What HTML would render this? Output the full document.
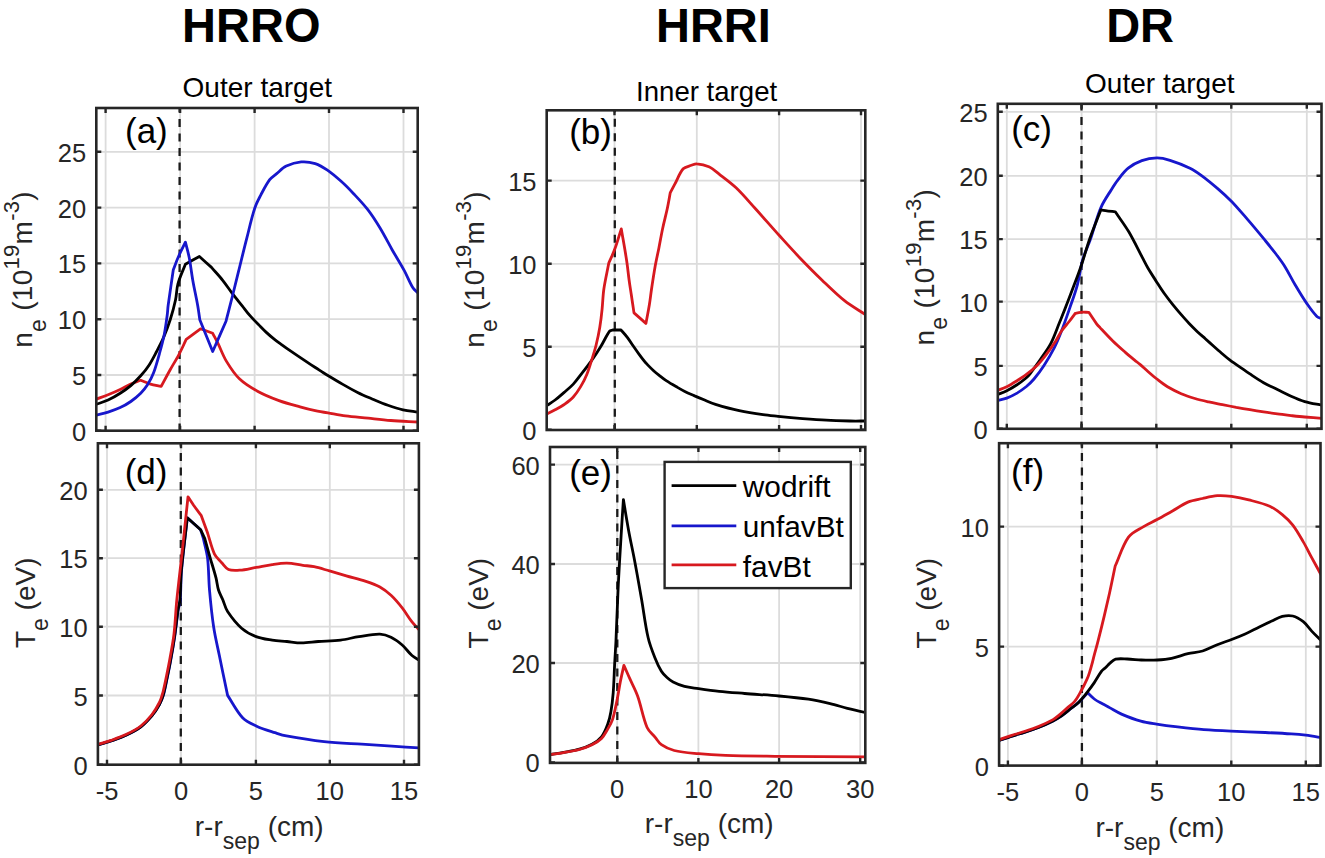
<!DOCTYPE html>
<html><head><meta charset="utf-8"><style>
html,body{margin:0;padding:0;background:#fff;}
svg{display:block;}
text{font-family:"Liberation Sans", sans-serif;fill:#262626;}
.k{fill:#000;}
</style></head><body>
<svg width="1325" height="858" viewBox="0 0 1325 858">
<rect width="1325" height="858" fill="#fff"/>
<clipPath id="clipa"><rect x="96.3" y="108" width="321.4" height="322.7"/></clipPath>
<path d="M105.6 108V430.7M180.1 108V430.7M254.6 108V430.7M329 108V430.7M403.5 108V430.7M96.3 375H417.7M96.3 319.2H417.7M96.3 263.4H417.7M96.3 207.6H417.7M96.3 151.8H417.7" stroke="#dcdcdc" stroke-width="1.8" fill="none"/>
<line x1="179.6" y1="430.7" x2="179.6" y2="108" stroke="#1a1a1a" stroke-width="2.3" stroke-dasharray="8 6.5" stroke-dashoffset="0.9"/>
<g clip-path="url(#clipa)" fill="none" stroke-width="2.8" stroke-linejoin="round" stroke-linecap="round">
<path d="M96 399.2C100 397.7 104.1 396.3 108.1 394.7C112.2 393 116.2 391.3 120.2 389.4C123.8 387.7 127.2 385.7 130.8 384.1C134 382.7 137.4 381.6 140.7 380.3C144 381.6 147.2 383.1 150.5 384.1C154 385.1 157.6 385.6 161.2 386.4C164.2 380.8 167.1 375.2 170.2 369.7C173.2 364.4 176.5 359.2 179.3 353.8C181.8 349.1 183.9 344.2 186.2 339.4C191 335.9 195.7 332.3 200.5 328.8C204.6 330.3 208.6 331.8 212.7 333.3C214.5 336.8 216.4 340.3 218.2 343.9C221 349.7 223.2 355.9 226.5 361.4C230.2 367.5 234.3 373.9 239.4 378.8C244.6 383.8 251.1 387.7 257.5 391.2C264.3 395 271.7 397.9 279 400.6C285.8 403.1 293 404.9 300 406.8C305 408.2 310.1 409.5 315.2 410.6C319.4 411.5 323.7 412.2 328 412.9C333.8 413.9 339.6 415.1 345.5 415.9C353 416.9 360.6 417.4 368.2 418.2C375.8 419 383.3 419.9 390.9 420.5C399.9 421.2 409 421.5 418 422" stroke="#d7191f"/>
<path d="M96 404.5C100 403 104.2 401.8 108.1 400C112.3 398 116.3 395.7 120.2 393.2C123.9 390.9 127.5 388.4 130.8 385.6C134.3 382.6 137.6 379.3 140.7 375.8C143.7 372.5 146.6 368.9 149 365.2C151.9 360.8 154.2 356.1 156.6 351.5C159 347 161.4 342.6 163.4 337.9C165.9 332 168.2 325.9 170.2 319.7C172.3 313.2 174.1 306.6 175.5 300C176.7 294.6 176.5 289 178 283.7C179.8 277 182.9 270.7 185.4 264.2C190.1 261.6 194.7 259.1 199.4 256.5C203.4 260.1 207.5 263.8 211.5 267.4C215.2 271.7 219.2 275.8 222.7 280.3C226.2 284.7 229.2 289.4 232.6 293.9C235.8 298 239.1 302 242.4 306.1C244.9 309.3 247.3 312.6 250 315.7C252.6 318.7 255.4 321.5 258.2 324.3C260.9 327 263.5 329.8 266.3 332.4C268.9 334.8 271.7 337.2 274.5 339.4C277.1 341.5 279.9 343.4 282.6 345.4C285.3 347.4 288 349.3 290.8 351.2C293.5 353 296.2 354.8 298.9 356.6C301.6 358.4 304.4 360.3 307.1 362.1C309.8 363.9 312.6 365.7 315.3 367.5C318 369.2 320.7 371 323.4 372.7C325.6 374.1 327.8 375.4 330 376.7C334.1 379.2 338.2 381.7 342.4 384.1C347.4 387 352.4 389.8 357.6 392.4C362.5 394.9 367.6 397 372.7 399.2C377.7 401.3 382.8 403.5 387.9 405.3C392.9 407 397.9 408.6 403 409.8C407.9 410.9 413 411.4 418 412.2" stroke="#000000"/>
<path d="M96 415.2C100 414.2 104.1 413.3 108.1 412.1C112.2 410.8 116.3 409.4 120.2 407.6C123.9 405.9 127.5 403.8 130.8 401.5C134.3 399 137.7 396.2 140.7 393.2C143.2 390.7 145.6 387.8 147.5 384.8C149.9 381 152 376.9 153.6 372.7C156 366.3 157.8 359.6 159.6 353C161.3 347 163 340.9 164.2 334.8C165.5 328.3 166.3 321.7 167.2 315.2C167.7 311.8 167.7 308.4 168.2 305C169.8 293.3 171.6 281.5 173.3 269.8C175 265.4 176.5 261 178.4 256.7C180.6 251.8 183.1 247 185.4 242.2C186.7 247.3 188.2 252.4 189.2 257.6C190.7 265.3 191.5 273.2 192.9 281C194.3 289 196.2 297 197.6 305C198.5 309.9 199.1 314.8 199.8 319.7C204.1 330.3 208.4 340.9 212.7 351.5C217.1 341.4 221.6 331.3 226 321.2C228.2 312.6 230.4 304.1 232.6 295.5C234.6 287.4 236.6 279.3 238.6 271.2C241.4 259.9 244.1 248.6 247 237.4C249.5 227.5 251.7 217.4 254.9 207.7C256.4 203.1 258.8 198.9 261 194.6C263.7 189.5 266.3 184.3 269.7 179.7C271.5 177.3 274.3 175.6 276.7 173.6C279.8 171 282.7 167.8 286.3 166.1C290.9 163.9 296.2 162.3 301.2 161.9C305.8 161.5 310.8 162.2 315.2 163.6C319.5 165 323.6 167.5 327.4 170.1C332.3 173.5 336.9 177.5 341.4 181.5C345.7 185.3 349.7 189.5 353.6 193.7C358.4 198.8 363.3 203.9 367.6 209.4C372.1 215.2 376.1 221.5 379.9 227.8C384.2 234.9 388 242.4 392.1 249.7C396.1 256.7 400.4 263.5 404.3 270.6C407.4 276.3 409.7 282.6 413.1 288.1C414.4 290.2 416.6 291.6 418.3 293.4" stroke="#1717cc"/>
</g>
<path d="M105.6 430.7v-5M105.6 108v5M180.1 430.7v-5M180.1 108v5M254.6 430.7v-5M254.6 108v5M329 430.7v-5M329 108v5M403.5 430.7v-5M403.5 108v5M96.3 430.7h5M417.7 430.7h-5M96.3 375h5M417.7 375h-5M96.3 319.2h5M417.7 319.2h-5M96.3 263.4h5M417.7 263.4h-5M96.3 207.6h5M417.7 207.6h-5M96.3 151.8h5M417.7 151.8h-5" stroke="#262626" stroke-width="2.4" fill="none"/>
<rect x="96.3" y="108" width="321.4" height="322.7" fill="none" stroke="#262626" stroke-width="2.6"/>
<text x="86.1" y="440.7" font-size="25.5" text-anchor="end">0</text>
<text x="86.1" y="385" font-size="25.5" text-anchor="end">5</text>
<text x="86.1" y="329.2" font-size="25.5" text-anchor="end">10</text>
<text x="86.1" y="273.4" font-size="25.5" text-anchor="end">15</text>
<text x="86.1" y="217.6" font-size="25.5" text-anchor="end">20</text>
<text x="86.1" y="161.8" font-size="25.5" text-anchor="end">25</text>
<text class="k" x="125" y="143" font-size="35">(a)</text>
<clipPath id="clipb"><rect x="546.7" y="110.3" width="318.6" height="319.7"/></clipPath>
<path d="M614.5 110.3V430M696.8 110.3V430M779.1 110.3V430M861 110.3V430M546.7 346.7H865.3M546.7 263.8H865.3M546.7 180.6H865.3" stroke="#dcdcdc" stroke-width="1.8" fill="none"/>
<line x1="614.8" y1="430" x2="614.8" y2="110.3" stroke="#1a1a1a" stroke-width="2.3" stroke-dasharray="8 6.5" stroke-dashoffset="1.3"/>
<g clip-path="url(#clipb)" fill="none" stroke-width="2.8" stroke-linejoin="round" stroke-linecap="round">
<path d="M546 406.1C549 404.1 552.2 402.2 555.1 400C558.3 397.6 561.2 395 564.2 392.4C567.3 389.7 570.5 387.1 573.3 384.1C576.6 380.5 579.4 376.5 582.4 372.7C585.5 368.7 588.6 364.7 591.5 360.6C594.6 356.2 597.7 351.6 600.5 347C603.7 341.8 606.2 335.9 609.6 331.1C610.2 330.2 611.7 330.4 612.7 330C615.5 330 618.2 330 621 330C623.2 332.5 625.5 335 627.5 337.6C629.5 340.2 631.2 343.1 633.1 345.8C634.9 348.4 636.7 351.1 638.6 353.6C641 356.9 643.4 360.2 646.1 363.2C648.4 365.9 651 368.3 653.6 370.7C655.4 372.3 657.3 373.8 659.2 375.3C661.6 377.2 664 379.2 666.6 380.9C669.6 382.9 672.8 384.7 676 386.5C679.1 388.3 682.1 390.1 685.3 391.7C688.3 393.2 691.5 394.5 694.6 395.9C697.7 397.2 700.9 398.5 704 399.8C707.8 401.4 711.6 403.2 715.5 404.4C723.3 406.8 731.2 409 739.2 410.7C747.1 412.4 755 413.6 763 414.7C768 415.4 773.1 415.8 778.1 416.3C786.3 417.1 794.4 417.9 802.6 418.6C810.5 419.2 818.5 419.8 826.4 420.2C834.3 420.6 842.3 420.8 850.2 421C855.5 421.1 860.7 421 866 421" stroke="#000000"/>
<path d="M546 414.4C549 412.9 552.1 411.4 555.1 409.8C558.2 408.1 561.3 406.5 564.2 404.5C567.4 402.2 570.7 399.9 573.3 397C576.2 393.8 578.6 390.1 580.8 386.4C583.1 382.5 585.2 378.4 586.9 374.2C588.7 369.8 590.1 365.2 591.5 360.6C593.1 355.6 594.7 350.6 596 345.5C597.5 339.5 598.8 333.4 599.8 327.3C600.8 321.3 601.5 315.2 602.1 309.1C602.8 302.3 602.9 295.4 603.9 288.7C605.2 280.1 607.2 271.6 608.8 263C610.8 258.4 613.1 253.8 614.8 249.1C617.2 242.5 619.1 235.6 621.3 228.9C623.1 239.6 625.1 250.3 626.7 261C627.7 267.3 628.2 273.7 629.1 280C629.7 284.7 630.5 289.3 631.2 294C632.1 300.3 633.1 306.6 634 312.9C638 316.4 641.9 319.9 645.9 323.4C647.1 317.1 648.4 310.8 649.4 304.5C650.2 299.7 650.7 294.8 651.4 290C652.6 282 653.8 274 655.2 266.1C656.3 260 657.7 254 658.9 247.9C660.2 241.3 661.3 234.7 662.7 228.2C664.1 221.6 665.9 215.1 667.3 208.5C668.4 203.2 669.3 197.9 670.3 192.6C671.8 189.8 673.3 187 674.8 184.2C677.6 179.1 679.5 173 683.2 168.8C685.1 166.7 688.7 166.3 691.5 165.3C693.2 164.7 695 163.6 696.8 163.8C700.8 164.1 705.2 165.1 708.9 166.8C712.9 168.7 716.4 172 720 174.8C725.5 179 731.1 183.1 736.1 187.8C742.7 194.1 748.6 201.2 754.8 208C763 217 770.9 226.3 779.1 235.3C785.9 242.8 792.7 250.4 799.7 257.7C807 265.3 814.5 272.9 822.1 280.2C829.4 287.2 836.6 294.4 844.5 300.7C851.2 306 858.8 310.2 866 315" stroke="#d7191f"/>
</g>
<path d="M614.5 430v-5M614.5 110.3v5M696.8 430v-5M696.8 110.3v5M779.1 430v-5M779.1 110.3v5M861 430v-5M861 110.3v5M546.7 429.8h5M865.3 429.8h-5M546.7 346.7h5M865.3 346.7h-5M546.7 263.8h5M865.3 263.8h-5M546.7 180.6h5M865.3 180.6h-5" stroke="#262626" stroke-width="2.4" fill="none"/>
<rect x="546.7" y="110.3" width="318.6" height="319.7" fill="none" stroke="#262626" stroke-width="2.6"/>
<text x="536.5" y="439.8" font-size="25.5" text-anchor="end">0</text>
<text x="536.5" y="356.7" font-size="25.5" text-anchor="end">5</text>
<text x="536.5" y="273.8" font-size="25.5" text-anchor="end">10</text>
<text x="536.5" y="190.6" font-size="25.5" text-anchor="end">15</text>
<text class="k" x="569.2" y="144.1" font-size="35">(b)</text>
<clipPath id="clipc"><rect x="997.8" y="103.8" width="323.7" height="325"/></clipPath>
<path d="M1006.8 103.8V428.8M1081.6 103.8V428.8M1156.3 103.8V428.8M1231.3 103.8V428.8M1306.8 103.8V428.8M997.8 365.9H1321.5M997.8 301.6H1321.5M997.8 239.1H1321.5M997.8 175.8H1321.5M997.8 111.8H1321.5" stroke="#dcdcdc" stroke-width="1.8" fill="none"/>
<line x1="1081.5" y1="428.8" x2="1081.5" y2="103.8" stroke="#1a1a1a" stroke-width="2.3" stroke-dasharray="8 6.5" stroke-dashoffset="0.7"/>
<g clip-path="url(#clipc)" fill="none" stroke-width="2.8" stroke-linejoin="round" stroke-linecap="round">
<path d="M997 400.5C1000.3 399.7 1003.7 399.2 1006.8 398.1C1010.2 396.9 1013.5 395.2 1016.6 393.4C1020 391.4 1023.3 389 1026.4 386.5C1029.1 384.2 1031.7 381.7 1034 379C1037.6 374.7 1041 370.2 1044 365.5C1047.8 359.6 1051.3 353.5 1054.5 347.3C1057.2 342 1059.4 336.5 1061.5 331C1064.5 323.3 1067.2 315.4 1069.9 307.6C1072.5 300.1 1075.3 292.7 1077.3 285.1C1079.5 276.9 1080.3 268.2 1082.6 260C1084.7 252.8 1088 246.1 1090.5 239C1094.1 228.6 1096.6 217.7 1100.9 207.6C1103.6 201.2 1107.8 195.4 1111.5 189.4C1113.4 186.3 1115.3 183.2 1117.6 180.3C1120.9 176.1 1124.1 171.5 1128.2 168.2C1132.2 165 1137 162.3 1141.8 160.6C1146.6 158.9 1151.9 158 1157 157.9C1161.3 157.9 1165.8 159 1170 160.3C1176.8 162.4 1183.6 165.1 1190 168.2C1194.2 170.2 1198.1 173 1201.9 175.8C1207.3 179.8 1212.6 184.2 1217.7 188.6C1222.5 192.7 1227.2 197 1231.6 201.5C1237.1 207.2 1242.3 213.4 1247.5 219.4C1252.9 225.6 1258.1 231.9 1263.3 238.2C1267.3 243.1 1271.4 248 1275.2 253C1278.6 257.5 1282.1 262.1 1285.1 266.9C1288.7 272.7 1291.6 278.9 1295.1 284.7C1298.9 291.1 1302.7 297.5 1306.9 303.6C1310 308.1 1313.1 312.7 1316.9 316.4C1318.2 317.7 1320.3 317.9 1322 318.6" stroke="#1717cc"/>
<path d="M997 394.8C1000.3 393.4 1003.6 392.3 1006.8 390.7C1010.2 389 1013.5 387.1 1016.6 385C1020 382.8 1023.3 380.3 1026.4 377.7C1027.8 376.6 1028.9 375.2 1030 373.8C1033.6 369 1037.1 364.1 1040.5 359.2C1044.1 353.9 1048.1 348.8 1051 343.1C1054.4 336.6 1056.6 329.6 1059.4 322.8C1061.5 317.6 1063.7 312.4 1065.7 307.1C1068.6 299.8 1071.3 292.5 1074.1 285.1C1076.6 278.5 1079.1 271.9 1081.4 265.2C1084.4 256.2 1086.8 247 1090 238C1093.3 228.5 1097.3 219.2 1100.9 209.8C1102.4 210.1 1104 210.4 1105.5 210.6C1108.8 211.1 1112 211.4 1115.3 211.8C1119.8 218.5 1124.7 224.9 1128.8 231.8C1133.7 240.2 1137.9 249 1142.4 257.6C1144.3 261.2 1146.1 264.9 1148.2 268.5C1150.8 272.9 1153.6 277.1 1156.3 281.4C1159 285.6 1161.6 289.8 1164.5 293.8C1167.1 297.4 1169.8 300.9 1172.6 304.4C1175.3 307.7 1178 311 1180.8 314.2C1183.4 317.2 1186.1 320.3 1188.9 323.2C1191.6 326 1194.3 328.7 1197.1 331.4C1199.8 333.9 1202.6 336.3 1205.3 338.7C1208 341.1 1210.7 343.6 1213.4 346C1216.1 348.4 1218.8 350.8 1221.6 353.2C1224.3 355.5 1226.9 357.8 1229.7 359.9C1233 362.4 1236.5 364.8 1240 367.2C1243.3 369.5 1246.6 371.7 1249.9 373.9C1254.4 376.9 1258.9 380 1263.6 382.7C1268.1 385.2 1272.8 387.3 1277.4 389.6C1282 391.8 1286.5 394.2 1291.1 396.2C1295.6 398.2 1300.1 400.2 1304.8 401.6C1310.4 403.3 1316.3 404.1 1322 405.3" stroke="#000000"/>
<path d="M997 390.7C1000.3 389.4 1003.6 388.3 1006.8 386.7C1010.2 385 1013.4 383 1016.6 381C1019.9 378.9 1023.3 376.8 1026.4 374.4C1029.8 371.9 1033.2 369.3 1036.2 366.3C1039.7 362.8 1042.9 358.8 1046 354.8C1049.5 350.3 1052.7 345.7 1055.8 341C1057.9 337.8 1059.3 334.2 1061.5 331C1063.8 327.7 1066.7 324.7 1069.2 321.5C1071.3 318.8 1073.2 316.1 1075.2 313.4C1076.9 313 1078.6 312.4 1080.4 312.3C1083.2 312.1 1086 312.3 1088.8 312.3C1091.4 316.1 1093.9 320.1 1096.6 323.8C1097.6 325.2 1098.8 326.4 1100 327.6C1104.2 332.1 1108.4 336.7 1112.8 341C1116.9 345 1121.3 348.8 1125.6 352.6C1128.5 355.2 1131.6 357.6 1134.6 360.1C1136.4 361.6 1138.2 362.9 1140 364.4C1142.8 366.8 1145.4 369.3 1148.2 371.7C1150.8 374 1153.4 376.3 1156.2 378.5C1159.9 381.4 1163.5 384.4 1167.5 386.8C1171.9 389.4 1176.5 391.7 1181.2 393.7C1185.6 395.6 1190.3 397.1 1194.9 398.5C1199.4 399.9 1204.1 400.9 1208.7 401.9C1213.2 402.9 1217.8 403.7 1222.4 404.6C1227 405.5 1231.6 406.5 1236.2 407.4C1240.8 408.2 1245.3 408.9 1249.9 409.7C1254.5 410.4 1259 411.2 1263.6 411.9C1268.2 412.6 1272.8 413.2 1277.4 413.8C1282 414.4 1286.5 415.1 1291.1 415.6C1295.7 416.1 1300.2 416.6 1304.8 417C1310.5 417.5 1316.3 417.9 1322 418.4" stroke="#d7191f"/>
</g>
<path d="M1006.8 428.8v-5M1006.8 103.8v5M1081.6 428.8v-5M1081.6 103.8v5M1156.3 428.8v-5M1156.3 103.8v5M1231.3 428.8v-5M1231.3 103.8v5M1306.8 428.8v-5M1306.8 103.8v5M997.8 428.8h5M1321.5 428.8h-5M997.8 365.9h5M1321.5 365.9h-5M997.8 301.6h5M1321.5 301.6h-5M997.8 239.1h5M1321.5 239.1h-5M997.8 175.8h5M1321.5 175.8h-5M997.8 111.8h5M1321.5 111.8h-5" stroke="#262626" stroke-width="2.4" fill="none"/>
<rect x="997.8" y="103.8" width="323.7" height="325" fill="none" stroke="#262626" stroke-width="2.6"/>
<text x="987.6" y="438.8" font-size="25.5" text-anchor="end">0</text>
<text x="987.6" y="375.9" font-size="25.5" text-anchor="end">5</text>
<text x="987.6" y="311.6" font-size="25.5" text-anchor="end">10</text>
<text x="987.6" y="249.1" font-size="25.5" text-anchor="end">15</text>
<text x="987.6" y="185.8" font-size="25.5" text-anchor="end">20</text>
<text x="987.6" y="121.8" font-size="25.5" text-anchor="end">25</text>
<text class="k" x="1011.2" y="141.2" font-size="35">(c)</text>
<clipPath id="clipd"><rect x="97.9" y="443.3" width="321" height="321.4"/></clipPath>
<path d="M107 443.3V764.7M181 443.3V764.7M255.9 443.3V764.7M329.8 443.3V764.7M404 443.3V764.7M97.9 695.5H418.9M97.9 626.7H418.9M97.9 558.2H418.9M97.9 489.8H418.9" stroke="#dcdcdc" stroke-width="1.8" fill="none"/>
<line x1="180.8" y1="764.7" x2="180.8" y2="443.3" stroke="#1a1a1a" stroke-width="2.3" stroke-dasharray="8 6.5" stroke-dashoffset="0.7"/>
<g clip-path="url(#clipd)" fill="none" stroke-width="2.8" stroke-linejoin="round" stroke-linecap="round">
<path d="M96 745.5C101 744 106 742.6 110.9 740.9C115.9 739.2 121.1 737.6 125.9 735.3C131 732.9 136.3 730.3 140.8 726.9C145 723.8 148.6 719.7 152 715.7C154.8 712.3 157.2 708.4 159.4 704.5C161 701.5 162.4 698.4 163.4 695.1C165 689.7 165.9 684 167.1 678.4C168.4 672.2 169.7 666 170.8 659.7C172.2 652.3 173.5 644.8 174.6 637.3C176 628 176.9 618.6 178.3 609.3C178.8 606.2 179.9 603.1 180.2 600C181 590.4 180.7 580.6 181.5 571C183 553.2 185.4 535.5 187.3 517.8C191.7 521.8 196.2 525.7 200.6 529.7C201.5 532.7 202.5 535.7 203.4 538.7C204.8 545.2 206.8 551.7 207.6 558.3C208.8 568.8 208.6 579.5 209.5 590C210.6 602.5 211.8 614.9 213.7 627.3C215.1 636.7 217.4 646 219.3 655.3C222 668.7 224.8 682 227.6 695.4C232.6 702.9 236.6 711.4 242.6 717.8C246.2 721.7 251.7 723.9 256.6 726.2C262.5 728.9 268.8 730.7 275 732.7C278.8 733.9 282.5 735.2 286.4 735.9C298.9 738.2 311.5 740.2 324.1 741.6C336.6 743 349.2 743.4 361.7 744.2C371.7 744.9 381.8 745.4 391.8 746.1C401.2 746.7 410.6 747.4 420 748" stroke="#1717cc"/>
<path d="M96 745.5C101 744 106 742.6 110.9 740.9C115.9 739.2 121.1 737.6 125.9 735.3C131 732.9 136.3 730.3 140.8 726.9C145 723.8 148.6 719.7 152 715.7C154.8 712.3 157.3 708.4 159.4 704.5C161 701.5 162.3 698.3 163.2 695.1C164.8 689.6 165.7 684 166.9 678.4C168.2 672.2 169.5 666 170.6 659.7C172 652.3 173.3 644.8 174.4 637.3C175.8 628 176.7 618.6 178.1 609.3C178.6 606.2 179.7 603.1 180 600C180.8 590.4 180.4 580.6 181.3 571C182.9 553.2 185.3 535.5 187.3 517.8C191.7 521.8 196.2 525.7 200.6 529.7C202 532.7 203.4 535.7 204.8 538.7C206.6 545.2 208.4 551.8 210.3 558.3C212.2 564.8 214.3 571.3 216 577.9C217 581.9 217.3 586.1 218.5 590C219.6 593.5 221.5 596.6 222.9 600C224.5 603.8 225.3 608.1 227.6 611.5C231.6 617.5 236.2 623.5 241.6 628.2C245.7 631.8 251 634.6 256.1 636.6C261.2 638.6 266.8 639.2 272.2 640.1C277.1 640.9 282 641 286.9 641.5C291.8 642 296.6 642.9 301.5 642.9C307.1 642.9 312.7 641.9 318.3 641.5C325.8 641 333.3 641 340.7 640.1C346.8 639.4 352.8 637.5 358.9 636.6C365.9 635.6 373 634 379.9 634.2C383.7 634.3 387.6 635.6 391 637.3C395 639.2 398.8 642.1 402.2 645C405.8 648.1 408.4 652.4 412 655.5C414.4 657.6 417.3 659 420 660.7" stroke="#000000"/>
<path d="M96 745C101 743.5 106 742.1 110.9 740.4C116 738.6 121.1 736.9 125.9 734.6C131.1 732.1 136.3 729.5 140.8 726C145 722.8 148.7 718.7 152 714.5C154.9 710.8 157.3 706.7 159.4 702.5C161 699.2 162 695.6 163 692C164.4 686.7 165.4 681.3 166.5 676C167.8 669.7 169.1 663.4 170.2 657C171.6 649.4 173.1 641.7 174 634C175.3 622.7 175.7 611.3 176.8 600C178.5 583.3 180.6 566.6 182.4 549.9C184.3 532.2 186.1 514.5 188 496.8C189.9 499.6 191.7 502.4 193.6 505.2C196.1 508.7 198.7 512.2 201.3 515.7C203.4 521.5 205.5 527.3 207.6 533.1C209.9 540.1 211.4 547.5 214.5 554.1C216 557.3 219.2 559.7 221.5 562.5C223.8 564.8 225.7 568.3 228.5 569.5C231.8 570.9 236.2 570.5 240 570.2C245.4 569.8 250.7 568.3 256.1 567.4C261.5 566.5 266.8 565.3 272.2 564.6C277.1 563.9 282 563.1 286.9 563.2C292.2 563.3 297.6 564.6 302.9 565.3C306.6 565.8 310.4 565.9 314.1 566.7C319.3 567.8 324.4 569.5 329.5 570.9C335.1 572.5 340.7 574.2 346.3 575.8C352.8 577.7 359.5 579.3 365.9 581.4C370.7 583 375.5 584.6 379.9 587C383.9 589.2 387.6 592.2 391 595.3C395.1 599.1 398.7 603.5 402.2 607.9C405.7 612.4 408.5 617.4 412 621.9C414.4 625 417.3 627.8 420 630.8" stroke="#d7191f"/>
</g>
<path d="M107 764.7v-5M107 443.3v5M181 764.7v-5M181 443.3v5M255.9 764.7v-5M255.9 443.3v5M329.8 764.7v-5M329.8 443.3v5M404 764.7v-5M404 443.3v5M97.9 764.7h5M418.9 764.7h-5M97.9 695.5h5M418.9 695.5h-5M97.9 626.7h5M418.9 626.7h-5M97.9 558.2h5M418.9 558.2h-5M97.9 489.8h5M418.9 489.8h-5" stroke="#262626" stroke-width="2.4" fill="none"/>
<rect x="97.9" y="443.3" width="321" height="321.4" fill="none" stroke="#262626" stroke-width="2.6"/>
<text x="87.7" y="774.7" font-size="25.5" text-anchor="end">0</text>
<text x="87.7" y="705.5" font-size="25.5" text-anchor="end">5</text>
<text x="87.7" y="636.7" font-size="25.5" text-anchor="end">10</text>
<text x="87.7" y="568.2" font-size="25.5" text-anchor="end">15</text>
<text x="87.7" y="499.8" font-size="25.5" text-anchor="end">20</text>
<text x="107" y="800.2" font-size="25.5" text-anchor="middle">-5</text>
<text x="181" y="800.2" font-size="25.5" text-anchor="middle">0</text>
<text x="255.9" y="800.2" font-size="25.5" text-anchor="middle">5</text>
<text x="329.8" y="800.2" font-size="25.5" text-anchor="middle">10</text>
<text x="404" y="800.2" font-size="25.5" text-anchor="middle">15</text>
<text class="k" x="124.7" y="483.5" font-size="35">(d)</text>
<clipPath id="clipe"><rect x="550" y="447" width="315.3" height="315.9"/></clipPath>
<path d="M617.2 447V762.9M698.4 447V762.9M779.1 447V762.9M860.2 447V762.9M550 663H865.3M550 564H865.3M550 464.6H865.3" stroke="#dcdcdc" stroke-width="1.8" fill="none"/>
<line x1="617.3" y1="762.9" x2="617.3" y2="447" stroke="#1a1a1a" stroke-width="2.3" stroke-dasharray="8 6.5" stroke-dashoffset="0.7"/>
<g clip-path="url(#clipe)" fill="none" stroke-width="2.8" stroke-linejoin="round" stroke-linecap="round">
<path d="M548 755C553.2 754.1 558.5 753.4 563.7 752.4C569 751.4 574.3 750.7 579.4 749.2C583.7 748 588.1 746.5 592 744.3C595.5 742.4 599.1 740 601.5 736.9C604.3 733.3 606.1 728.7 607.7 724.3C609.2 720.3 610.2 716 610.9 711.8C612 705.6 612.7 699.2 613.2 692.9C614 682.4 614.2 671.9 614.8 661.4C615.2 654.3 615.7 647.1 616 640C616.8 621.5 617.4 603 618.3 584.5C619.1 568.3 620.1 552.2 621.1 536C621.8 523.9 622.6 511.7 623.4 499.6C625.1 509.9 626.7 520.2 628.6 530.4C630.3 539.8 632.4 549 634.2 558.4C636.8 572 639.2 585.7 641.6 599.4C643.8 612.1 645.2 625 648.1 637.5C649.6 644.3 652.2 650.9 654.8 657.4C656.7 662.2 658.8 667 661.4 671.3C662.8 673.7 664.9 675.6 667 677.5C668.8 679.2 670.9 680.8 673.1 681.9C676.7 683.7 680.6 685.4 684.5 686.4C689.1 687.6 693.9 687.9 698.6 688.6C705.4 689.6 712.2 690.6 719.1 691.3C727.6 692.2 736.2 692.8 744.7 693.5C756.2 694.4 767.7 695 779.1 696C788.9 696.9 798.7 697.8 808.4 699.2C815.7 700.3 822.9 701.9 830.1 703.6C835.9 705 841.6 706.8 847.4 708.3C853.6 709.8 859.8 711.2 866 712.6" stroke="#000000"/>
<path d="M548 755C553.2 754.2 558.5 753.5 563.7 752.6C569 751.7 574.3 750.9 579.4 749.5C583.7 748.3 588 746.8 592 744.8C595.4 743.1 598.9 741.1 601.5 738.5C604.1 735.9 605.8 732.3 607.7 729.1C609.5 726 611.4 723 612.5 719.6C614.6 713 615.8 706 617.2 699.2C618.4 693.5 619.2 687.6 620.3 681.9C621.4 676.4 622.7 670.9 623.9 665.4C625.9 669.8 627.8 674.3 629.8 678.7C632.4 684.5 635.5 690 637.6 696C641.3 706.3 642.9 717.6 647.1 727.5C648.7 731.3 652.4 733.9 655 737.1C657.1 739.6 658.7 742.8 661.4 744.7C665.1 747.3 669.7 749.4 674.2 750.5C682.1 752.4 690.4 752.9 698.6 753.7C707.5 754.6 716.5 755.1 725.5 755.4C742 756 758.5 756.1 775 756.3C805.3 756.6 835.7 756.6 866 756.8" stroke="#d7191f"/>
</g>
<path d="M617.2 762.9v-5M617.2 447v5M698.4 762.9v-5M698.4 447v5M779.1 762.9v-5M779.1 447v5M860.2 762.9v-5M860.2 447v5M550 762.4h5M865.3 762.4h-5M550 663h5M865.3 663h-5M550 564h5M865.3 564h-5M550 464.6h5M865.3 464.6h-5" stroke="#262626" stroke-width="2.4" fill="none"/>
<rect x="550" y="447" width="315.3" height="315.9" fill="none" stroke="#262626" stroke-width="2.6"/>
<text x="539.8" y="772.4" font-size="25.5" text-anchor="end">0</text>
<text x="539.8" y="673" font-size="25.5" text-anchor="end">20</text>
<text x="539.8" y="574" font-size="25.5" text-anchor="end">40</text>
<text x="539.8" y="474.6" font-size="25.5" text-anchor="end">60</text>
<text x="617.2" y="798.4" font-size="25.5" text-anchor="middle">0</text>
<text x="698.4" y="798.4" font-size="25.5" text-anchor="middle">10</text>
<text x="779.1" y="798.4" font-size="25.5" text-anchor="middle">20</text>
<text x="860.2" y="798.4" font-size="25.5" text-anchor="middle">30</text>
<text class="k" x="569.2" y="485.3" font-size="35">(e)</text>
<clipPath id="clipf"><rect x="999.1" y="443.2" width="321.4" height="322.4"/></clipPath>
<path d="M1007.9 443.2V765.6M1081.9 443.2V765.6M1156.8 443.2V765.6M1231.3 443.2V765.6M1305.8 443.2V765.6M999.1 646.6H1320.5M999.1 526.6H1320.5" stroke="#dcdcdc" stroke-width="1.8" fill="none"/>
<line x1="1081.9" y1="765.6" x2="1081.9" y2="443.2" stroke="#1a1a1a" stroke-width="2.3" stroke-dasharray="8 6.5" stroke-dashoffset="-0.2"/>
<g clip-path="url(#clipf)" fill="none" stroke-width="2.8" stroke-linejoin="round" stroke-linecap="round">
<path d="M997 741.2C1001.7 739.6 1006.3 737.8 1011 736.3C1015.6 734.8 1020.4 733.6 1025 732.1C1029.7 730.6 1034.4 729 1039 727.2C1043.7 725.3 1048.4 723.2 1053 720.9C1055.4 719.7 1057.8 718.4 1060 716.9C1063.7 714.4 1067.1 711.5 1070.6 708.7C1073.3 706.6 1076.3 704.6 1078.8 702.2C1082 699.3 1084.7 695.9 1087.7 692.8C1089.9 694.9 1091.9 697.2 1094.3 699C1096.8 700.9 1099.7 702.3 1102.4 703.8C1104.9 705.2 1107.5 706.5 1110 707.9C1113.8 710 1117.5 712.4 1121.5 714.1C1127.8 716.8 1134.2 719.3 1140.8 721.2C1145.9 722.7 1151.2 723.3 1156.5 724.1C1163.5 725.2 1170.6 726.1 1177.6 726.9C1186.3 727.9 1195 728.9 1203.8 729.6C1212.8 730.3 1221.9 730.7 1231 731.1C1242.4 731.6 1253.7 732 1265.1 732.5C1273.9 732.9 1282.6 733.3 1291.4 733.9C1296.2 734.2 1301 734.6 1305.8 735.2C1311.2 735.9 1316.6 736.9 1322 737.8" stroke="#1717cc"/>
<path d="M997 741.2C1001.7 739.6 1006.3 737.8 1011 736.3C1015.6 734.8 1020.4 733.6 1025 732.1C1029.7 730.6 1034.4 729 1039 727.2C1043.7 725.3 1048.4 723.2 1053 720.9C1055.4 719.7 1057.8 718.4 1060 716.9C1063.7 714.4 1067.1 711.5 1070.6 708.7C1073.3 706.6 1076.3 704.7 1078.8 702.2C1082 699 1084.8 695.2 1087.7 691.6C1090 688.7 1092.2 685.7 1094.3 682.6C1096.8 678.9 1098.9 674.8 1101.6 671.2C1102.7 669.7 1104.4 668.8 1105.7 667.5C1107.2 666.1 1108.4 664.4 1110 663.1C1111.7 661.6 1113.5 659.7 1115.6 659.2C1119.2 658.3 1123.4 658.9 1127.3 659C1132 659.1 1136.6 659.8 1141.3 660C1146.6 660.2 1151.9 660.3 1157.1 660C1162 659.7 1166.8 659.3 1171.6 658.3C1177.1 657.2 1182.4 655 1187.9 653.7C1192.7 652.6 1197.9 652.4 1202.6 651C1207.7 649.4 1212.3 646.7 1217.3 644.7C1222 642.8 1226.9 641.3 1231.6 639.5C1236 637.8 1240.3 636.1 1244.6 634.2C1249.6 631.9 1254.4 629.3 1259.3 626.9C1263.4 624.9 1267.6 622.9 1271.8 621C1275.3 619.4 1278.6 617.3 1282.3 616.4C1285.6 615.6 1289.5 615.2 1292.8 616C1296.5 616.9 1300.2 619.3 1303.3 621.7C1306.5 624.3 1308.8 628 1311.7 631.1C1315 634.6 1318.6 638 1322 641.5" stroke="#000000"/>
<path d="M997 740.4C1001.7 738.8 1006.3 737.1 1011 735.6C1015.6 734.1 1020.4 732.9 1025 731.3C1029.7 729.7 1034.4 728.1 1039 726.2C1043.8 724.2 1048.5 722.1 1053 719.6C1055.5 718.2 1057.8 716.2 1060 714.4C1062.8 712.1 1065.5 709.5 1068.2 707.1C1070.4 705.2 1072.9 703.6 1074.7 701.4C1077.3 698.2 1079.2 694.4 1081.2 690.8C1083.3 687.1 1085.1 683.3 1086.9 679.4C1087.9 677.3 1088.7 675 1089.4 672.8C1090.3 670.1 1091.1 667.4 1091.8 664.7C1092.7 661.4 1093.4 658.2 1094.3 654.9C1095.6 650 1097 645.2 1098.2 640.3C1100.3 632.2 1102.3 624.2 1104.2 616.1C1106 608.5 1107.8 600.9 1109.5 593.3C1111.5 584.2 1113.3 575.1 1115.2 566C1119.6 556.4 1122.5 545.4 1128.5 537.1C1132 532.3 1138.4 529.8 1143.6 526.6C1147.9 524 1152.6 522 1157.1 519.6C1162 517 1166.8 514.2 1171.6 511.5C1177.1 508.4 1182.2 504.5 1187.9 502.1C1192.5 500.2 1197.7 499.6 1202.6 498.5C1207.5 497.4 1212.4 496.1 1217.3 495.7C1222 495.4 1226.9 495.8 1231.6 496.4C1237.4 497.2 1243.1 498.4 1248.8 499.9C1255.8 501.7 1263.1 503.3 1269.7 506.2C1274.3 508.2 1278.4 511.4 1282.3 514.6C1286.1 517.7 1289.8 521.2 1292.8 525.1C1296.8 530.3 1300 536.2 1303.3 541.9C1306.3 547 1308.9 552.4 1311.7 557.6C1315.1 563.9 1318.6 570.2 1322 576.5" stroke="#d7191f"/>
</g>
<path d="M1007.9 765.6v-5M1007.9 443.2v5M1081.9 765.6v-5M1081.9 443.2v5M1156.8 765.6v-5M1156.8 443.2v5M1231.3 765.6v-5M1231.3 443.2v5M1305.8 765.6v-5M1305.8 443.2v5M999.1 765.8h5M1320.5 765.8h-5M999.1 646.6h5M1320.5 646.6h-5M999.1 526.6h5M1320.5 526.6h-5" stroke="#262626" stroke-width="2.4" fill="none"/>
<rect x="999.1" y="443.2" width="321.4" height="322.4" fill="none" stroke="#262626" stroke-width="2.6"/>
<text x="988.9" y="775.8" font-size="25.5" text-anchor="end">0</text>
<text x="988.9" y="656.6" font-size="25.5" text-anchor="end">5</text>
<text x="988.9" y="536.6" font-size="25.5" text-anchor="end">10</text>
<text x="1007.9" y="801.1" font-size="25.5" text-anchor="middle">-5</text>
<text x="1081.9" y="801.1" font-size="25.5" text-anchor="middle">0</text>
<text x="1156.8" y="801.1" font-size="25.5" text-anchor="middle">5</text>
<text x="1231.3" y="801.1" font-size="25.5" text-anchor="middle">10</text>
<text x="1305.8" y="801.1" font-size="25.5" text-anchor="middle">15</text>
<text class="k" x="1011" y="483.5" font-size="35">(f)</text>
<text class="k" transform="translate(251.3,42) scale(1,1.02)" font-size="47" font-weight="bold" text-anchor="middle">HRRO</text>
<text class="k" transform="translate(713.4,42) scale(1,1.02)" font-size="47" font-weight="bold" text-anchor="middle">HRRI</text>
<text class="k" transform="translate(1140.1,42) scale(1,1.02)" font-size="47" font-weight="bold" text-anchor="middle">DR</text>
<text class="k" x="257.3" y="97.2" font-size="28" text-anchor="middle">Outer target</text>
<text class="k" x="706.6" y="100.8" font-size="27.6" text-anchor="middle">Inner target</text>
<text class="k" x="1159.8" y="92.5" font-size="28" text-anchor="middle">Outer target</text>
<text x="194.8" y="835.6" font-size="28">r-r<tspan font-size="23" dy="13.3">sep</tspan><tspan dy="-13.3"> (cm)</tspan></text>
<text x="644.8" y="833" font-size="28">r-r<tspan font-size="23" dy="13.3">sep</tspan><tspan dy="-13.3"> (cm)</tspan></text>
<text x="1095.4" y="836.5" font-size="28">r-r<tspan font-size="23" dy="13.3">sep</tspan><tspan dy="-13.3"> (cm)</tspan></text>
<text transform="translate(32.2,347.8) rotate(-90)" font-size="28" letter-spacing="0.28">n<tspan font-size="23" dy="13.3">e</tspan><tspan dy="-13.3"> (10</tspan><tspan font-size="22" dy="-13">19</tspan><tspan dy="13">m</tspan><tspan font-size="22" dy="-13">-3</tspan><tspan dy="13">)</tspan></text>
<text transform="translate(483.7,347.8) rotate(-90)" font-size="28" letter-spacing="0.28">n<tspan font-size="23" dy="13.3">e</tspan><tspan dy="-13.3"> (10</tspan><tspan font-size="22" dy="-13">19</tspan><tspan dy="13">m</tspan><tspan font-size="22" dy="-13">-3</tspan><tspan dy="13">)</tspan></text>
<text transform="translate(933.7,345.6) rotate(-90)" font-size="28" letter-spacing="0.28">n<tspan font-size="23" dy="13.3">e</tspan><tspan dy="-13.3"> (10</tspan><tspan font-size="22" dy="-13">19</tspan><tspan dy="13">m</tspan><tspan font-size="22" dy="-13">-3</tspan><tspan dy="13">)</tspan></text>
<text transform="translate(34.8,648.1) rotate(-90)" font-size="28">T<tspan font-size="23" dy="13.3">e</tspan><tspan dy="-13.3"> (eV)</tspan></text>
<text transform="translate(487.6,648.4) rotate(-90)" font-size="28">T<tspan font-size="23" dy="13.3">e</tspan><tspan dy="-13.3"> (eV)</tspan></text>
<text transform="translate(935.5,648.4) rotate(-90)" font-size="28">T<tspan font-size="23" dy="13.3">e</tspan><tspan dy="-13.3"> (eV)</tspan></text>
<rect x="664.6" y="461.9" width="186.2" height="126.2" fill="#fff" stroke="#262626" stroke-width="2.4"/>
<line x1="671.6" y1="485.7" x2="736.3" y2="485.7" stroke="#000000" stroke-width="2.8"/>
<text class="k" x="742.8" y="496.7" font-size="29.8">wodrift</text>
<line x1="671.6" y1="525.9" x2="736.3" y2="525.9" stroke="#1717cc" stroke-width="2.8"/>
<text class="k" x="742.8" y="537.2" font-size="29.8">unfavBt</text>
<line x1="671.6" y1="564.9" x2="736.3" y2="564.9" stroke="#d7191f" stroke-width="2.8"/>
<text class="k" x="742.8" y="576.9" font-size="29.8">favBt</text>
</svg>
</body></html>
